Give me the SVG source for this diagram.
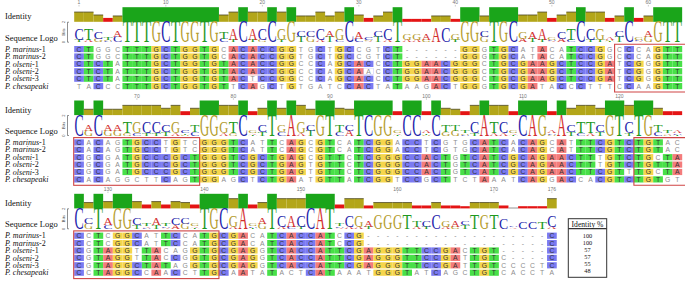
<svg xmlns="http://www.w3.org/2000/svg" width="685" height="285" viewBox="0 0 685 285">
<style>
.lb{font:8.5px "Liberation Serif","Times New Roman",serif;fill:#111}
.sp{font-size:8px}
.it{font-style:italic}
.ru{font:5px "Liberation Sans",Arial,sans-serif;fill:#777;text-anchor:middle}
.tk{stroke:#999;stroke-width:.5;fill:none}
.ax{font:4.5px "Liberation Serif",serif;fill:#333;text-anchor:middle}
.a,.c,.g,.t,.x{width:9.7px;height:6.2px}
.a{fill:#f47c7c}.c{fill:#7a7af2}.g{fill:#f5d64c}.t{fill:#48e048}.x{fill:#fff}
.sq{font:6.8px "Liberation Sans",Arial,sans-serif;fill:#333;text-anchor:middle}
.w{fill:#8c8c8c}
.gb{fill:#1aa51a;y:7.2px;height:14.6px}
.o{fill:#b3a619;stroke:#4b4622;stroke-width:.8px;stroke-dasharray:9.65 60;width:9.65px}
.r{fill:#e41414;width:9.65px}
.h67{y:12.07px;height:9.73px}.h47{y:14.99px;height:6.81px}.h40{y:15.96px;height:5.84px}
.h27{y:17.91px;height:3.89px}.h20{y:18.88px;height:2.92px}.h13{y:19.6px;height:2.2px}
.box{fill:none;stroke:#cf4444;stroke-width:1.1}
</style>
<defs>
<text id="Aa" fill="#d32f2f" font-size="30.53" textLength="9.15" lengthAdjust="spacingAndGlyphs">A</text>
<text id="Ca" fill="#2222aa" font-size="30.53" textLength="9.15" lengthAdjust="spacingAndGlyphs">C</text>
<text id="Ga" fill="#b49c2c" font-size="30.53" textLength="9.15" lengthAdjust="spacingAndGlyphs">G</text>
<text id="Ta" fill="#1f991f" font-size="30.53" textLength="9.15" lengthAdjust="spacingAndGlyphs">T</text>
<text id="Ab" fill="#d32f2f" font-size="17.18" textLength="9.15" lengthAdjust="spacingAndGlyphs">A</text>
<text id="Cb" fill="#2222aa" font-size="17.18" textLength="9.15" lengthAdjust="spacingAndGlyphs">C</text>
<text id="Gb" fill="#b49c2c" font-size="17.18" textLength="9.15" lengthAdjust="spacingAndGlyphs">G</text>
<text id="Tb" fill="#1f991f" font-size="17.18" textLength="9.15" lengthAdjust="spacingAndGlyphs">T</text>
<text id="Ac" fill="#d32f2f" font-size="3.44" textLength="9.15" lengthAdjust="spacingAndGlyphs">A</text>
<text id="Cc" fill="#2222aa" font-size="3.44" textLength="9.15" lengthAdjust="spacingAndGlyphs">C</text>
<text id="Gc" fill="#b49c2c" font-size="3.44" textLength="9.15" lengthAdjust="spacingAndGlyphs">G</text>
<text id="Tc" fill="#1f991f" font-size="3.44" textLength="9.15" lengthAdjust="spacingAndGlyphs">T</text>
<text id="Ad" fill="#d32f2f" font-size="11.01" textLength="9.15" lengthAdjust="spacingAndGlyphs">A</text>
<text id="Cd" fill="#2222aa" font-size="11.01" textLength="9.15" lengthAdjust="spacingAndGlyphs">C</text>
<text id="Gd" fill="#b49c2c" font-size="11.01" textLength="9.15" lengthAdjust="spacingAndGlyphs">G</text>
<text id="Td" fill="#1f991f" font-size="11.01" textLength="9.15" lengthAdjust="spacingAndGlyphs">T</text>
<text id="Ae" fill="#d32f2f" font-size="5.51" textLength="9.15" lengthAdjust="spacingAndGlyphs">A</text>
<text id="Ce" fill="#2222aa" font-size="5.51" textLength="9.15" lengthAdjust="spacingAndGlyphs">C</text>
<text id="Ge" fill="#b49c2c" font-size="5.51" textLength="9.15" lengthAdjust="spacingAndGlyphs">G</text>
<text id="Te" fill="#1f991f" font-size="5.51" textLength="9.15" lengthAdjust="spacingAndGlyphs">T</text>
<text id="Af" fill="#d32f2f" font-size="7.63" textLength="9.15" lengthAdjust="spacingAndGlyphs">A</text>
<text id="Cf" fill="#2222aa" font-size="7.63" textLength="9.15" lengthAdjust="spacingAndGlyphs">C</text>
<text id="Gf" fill="#b49c2c" font-size="7.63" textLength="9.15" lengthAdjust="spacingAndGlyphs">G</text>
<text id="Tf" fill="#1f991f" font-size="7.63" textLength="9.15" lengthAdjust="spacingAndGlyphs">T</text>
<text id="Ag" fill="#d32f2f" font-size="4.12" textLength="9.15" lengthAdjust="spacingAndGlyphs">A</text>
<text id="Cg" fill="#2222aa" font-size="4.12" textLength="9.15" lengthAdjust="spacingAndGlyphs">C</text>
<text id="Gg" fill="#b49c2c" font-size="4.12" textLength="9.15" lengthAdjust="spacingAndGlyphs">G</text>
<text id="Tg" fill="#1f991f" font-size="4.12" textLength="9.15" lengthAdjust="spacingAndGlyphs">T</text>
<text id="Ah" fill="#d32f2f" font-size="2.75" textLength="9.15" lengthAdjust="spacingAndGlyphs">A</text>
<text id="Ch" fill="#2222aa" font-size="2.75" textLength="9.15" lengthAdjust="spacingAndGlyphs">C</text>
<text id="Gh" fill="#b49c2c" font-size="2.75" textLength="9.15" lengthAdjust="spacingAndGlyphs">G</text>
<text id="Th" fill="#1f991f" font-size="2.75" textLength="9.15" lengthAdjust="spacingAndGlyphs">T</text>
<text id="Ai" fill="#d32f2f" font-size="1.37" textLength="9.15" lengthAdjust="spacingAndGlyphs">A</text>
<text id="Ci" fill="#2222aa" font-size="1.37" textLength="9.15" lengthAdjust="spacingAndGlyphs">C</text>
<text id="Gi" fill="#b49c2c" font-size="1.37" textLength="9.15" lengthAdjust="spacingAndGlyphs">G</text>
<text id="Ti" fill="#1f991f" font-size="1.37" textLength="9.15" lengthAdjust="spacingAndGlyphs">T</text>
<text id="Aj" fill="#d32f2f" font-size="20.36" textLength="9.15" lengthAdjust="spacingAndGlyphs">A</text>
<text id="Cj" fill="#2222aa" font-size="20.36" textLength="9.15" lengthAdjust="spacingAndGlyphs">C</text>
<text id="Gj" fill="#b49c2c" font-size="20.36" textLength="9.15" lengthAdjust="spacingAndGlyphs">G</text>
<text id="Tj" fill="#1f991f" font-size="20.36" textLength="9.15" lengthAdjust="spacingAndGlyphs">T</text>
<text id="Ak" fill="#d32f2f" font-size="9.09" textLength="9.15" lengthAdjust="spacingAndGlyphs">A</text>
<text id="Ck" fill="#2222aa" font-size="9.09" textLength="9.15" lengthAdjust="spacingAndGlyphs">C</text>
<text id="Gk" fill="#b49c2c" font-size="9.09" textLength="9.15" lengthAdjust="spacingAndGlyphs">G</text>
<text id="Tk" fill="#1f991f" font-size="9.09" textLength="9.15" lengthAdjust="spacingAndGlyphs">T</text>
<text id="Al" fill="#d32f2f" font-size="3.02" textLength="9.15" lengthAdjust="spacingAndGlyphs">A</text>
<text id="Cl" fill="#2222aa" font-size="3.02" textLength="9.15" lengthAdjust="spacingAndGlyphs">C</text>
<text id="Gl" fill="#b49c2c" font-size="3.02" textLength="9.15" lengthAdjust="spacingAndGlyphs">G</text>
<text id="Tl" fill="#1f991f" font-size="3.02" textLength="9.15" lengthAdjust="spacingAndGlyphs">T</text>
<text id="Cm" fill="#2222aa" font-size="5.09" textLength="9.15" lengthAdjust="spacingAndGlyphs">C</text>
<text id="Tm" fill="#1f991f" font-size="5.09" textLength="9.15" lengthAdjust="spacingAndGlyphs">T</text>
<text id="Cn" fill="#2222aa" font-size="15.27" textLength="9.15" lengthAdjust="spacingAndGlyphs">C</text>
<text id="Cp" fill="#2222aa" font-size="10.18" textLength="9.15" lengthAdjust="spacingAndGlyphs">C</text>
<text id="Tp" fill="#1f991f" font-size="10.18" textLength="9.15" lengthAdjust="spacingAndGlyphs">T</text>
<text id="Aq" fill="#d32f2f" font-size="2.55" textLength="9.15" lengthAdjust="spacingAndGlyphs">A</text>
<text id="Cq" fill="#2222aa" font-size="2.55" textLength="9.15" lengthAdjust="spacingAndGlyphs">C</text>
</defs>
<rect width="685" height="285" fill="#fff"/>

<g id="block1">
<g class="ru"><text x="79" y="4.2">1</text><text x="165.85" y="4.2">10</text><text x="262.35" y="4.2">20</text><text x="358.85" y="4.2">30</text><text x="455.35" y="4.2">40</text><text x="551.85" y="4.2">50</text><text x="648.35" y="4.2">60</text></g>
<path class="tk" d="M79,4.9v1.6M165.85,4.9v1.6M262.35,4.9v1.6M358.85,4.9v1.6M455.35,4.9v1.6M551.85,4.9v1.6M648.35,4.9v1.6"/>
<g class="lb"><text x="5" y="19.3">Identity</text><text x="5" y="40.8">Sequence Logo</text>
<g class="sp"><text x="5" y="51.8"><tspan class="it">P. marinus</tspan>-1</text><text x="5" y="59.2"><tspan class="it">P. marinus</tspan>-2</text><text x="5" y="66.6"><tspan class="it">P. olseni</tspan>-1</text><text x="5" y="74"><tspan class="it">P. olseni</tspan>-2</text><text x="5" y="81.4"><tspan class="it">P. olseni</tspan>-3</text><text x="5" y="88.8" class="it">P. chesapeaki</text></g></g>
<g id="b1-identity">
<rect class="o h67" x="74.2"/><rect class="o h67" x="83.85"/><rect class="o h47" x="93.5"/><rect class="r h27" x="103.15"/><rect class="o h40" x="112.8"/><rect class="gb" x="122.45" width="96.5"/><rect class="o h47" x="218.95"/><rect class="o h67" x="228.6"/><rect class="gb" x="238.25" width="9.65"/><rect class="o h67" x="247.9"/><rect class="o h67" x="257.55"/><rect class="gb" x="267.2" width="9.65"/><rect class="o h67" x="276.85"/><rect class="gb" x="286.5" width="9.65"/><rect class="o h40" x="296.15"/><rect class="o h40" x="305.8"/><rect class="o h67" x="315.45"/><rect class="o h40" x="325.1"/><rect class="o h67" x="334.75"/><rect class="gb" x="344.4" width="9.65"/><rect class="o h47" x="354.05"/><rect class="r h27" x="363.7"/><rect class="o h40" x="373.35"/><rect class="o h67" x="383"/><rect class="gb" x="392.65" width="9.65"/><rect class="r h20" x="402.3"/><rect class="r h20" x="411.95"/><rect class="r h20" x="421.6"/><rect class="o h40" x="431.25"/><rect class="o h40" x="440.9"/><rect class="r h20" x="450.55"/><rect class="gb" x="460.2" width="19.3"/><rect class="o h40" x="479.5"/><rect class="gb" x="489.15" width="28.95"/><rect class="o h47" x="518.1"/><rect class="o h47" x="527.75"/><rect class="o h67" x="537.4"/><rect class="r h27" x="547.05"/><rect class="o h47" x="556.7"/><rect class="o h67" x="566.35"/><rect class="gb" x="576" width="9.65"/><rect class="o h67" x="585.65"/><rect class="o h67" x="595.3"/><rect class="r h27" x="604.95"/><rect class="o h40" x="614.6"/><rect class="gb" x="624.25" width="9.65"/><rect class="r h27" x="633.9"/><rect class="o h40" x="643.55"/><rect class="gb" x="653.2" width="28.95"/>
</g>
<g id="b1-logo" transform="translate(0.25,42.2)" font-family="'Liberation Serif','Times New Roman',serif">
<use href="#Tc" x="74.2"/><use href="#Cb" x="74.2" y="-2.25"/><use href="#Ac" x="83.85"/><use href="#Tb" x="83.85" y="-2.25"/><use href="#Ge" x="93.5"/><use href="#Cd" x="93.5" y="-3.61"/><use href="#Ci" x="103.15"/><use href="#Gh" x="103.15" y="-.9"/><use href="#Tg" x="103.15" y="-2.7"/><use href="#Cf" x="112.8"/><use href="#Af" x="112.8" y="-5"/><use href="#Ta" x="122.45"/><use href="#Ta" x="132.1"/><use href="#Ta" x="141.75"/><use href="#Ga" x="151.4"/><use href="#Ca" x="161.05"/><use href="#Ta" x="170.7"/><use href="#Ga" x="180.35"/><use href="#Ga" x="190"/><use href="#Ta" x="199.65"/><use href="#Ga" x="209.3"/><use href="#Ce" x="218.95"/><use href="#Td" x="218.95" y="-3.61"/><use href="#Tc" x="228.6"/><use href="#Ab" x="228.6" y="-2.25"/><use href="#Ca" x="238.25"/><use href="#Tc" x="247.9"/><use href="#Ab" x="247.9" y="-2.25"/><use href="#Gc" x="257.55"/><use href="#Cb" x="257.55" y="-2.25"/><use href="#Ca" x="267.2"/><use href="#Tc" x="276.85"/><use href="#Gb" x="276.85" y="-2.25"/><use href="#Ga" x="286.5"/><use href="#Tf" x="296.15"/><use href="#Cf" x="296.15" y="-5"/><use href="#Gf" x="305.8"/><use href="#Cf" x="305.8" y="-5"/><use href="#Ac" x="315.45"/><use href="#Cb" x="315.45" y="-2.25"/><use href="#Tf" x="325.1"/><use href="#Af" x="325.1" y="-5"/><use href="#Cc" x="334.75"/><use href="#Gb" x="334.75" y="-2.25"/><use href="#Ca" x="344.4"/><use href="#Ce" x="354.05"/><use href="#Ad" x="354.05" y="-3.61"/><use href="#Ai" x="363.7"/><use href="#Gh" x="363.7" y="-.9"/><use href="#Cg" x="363.7" y="-2.7"/><use href="#Tf" x="373.35"/><use href="#Cf" x="373.35" y="-5"/><use href="#Ac" x="383"/><use href="#Cb" x="383" y="-2.25"/><use href="#Ta" x="392.65"/><use href="#Al" x="402.3"/><use href="#Gk" x="402.3" y="-1.98"/><use href="#Al" x="411.95"/><use href="#Gk" x="411.95" y="-1.98"/><use href="#Gl" x="421.6"/><use href="#Ak" x="421.6" y="-1.98"/><use href="#Aj" x="431.25"/><use href="#Cj" x="440.9"/><use href="#Tl" x="450.55"/><use href="#Gk" x="450.55" y="-1.98"/><use href="#Ga" x="460.2"/><use href="#Ga" x="469.85"/><use href="#Gf" x="479.5"/><use href="#Cf" x="479.5" y="-5"/><use href="#Ta" x="489.15"/><use href="#Ga" x="498.8"/><use href="#Ca" x="508.45"/><use href="#Ae" x="518.1"/><use href="#Gd" x="518.1" y="-3.61"/><use href="#Te" x="527.75"/><use href="#Ad" x="527.75" y="-3.61"/><use href="#Tc" x="537.4"/><use href="#Ab" x="537.4" y="-2.25"/><use href="#Ai" x="547.05"/><use href="#Ch" x="547.05" y="-.9"/><use href="#Gg" x="547.05" y="-2.7"/><use href="#Ae" x="556.7"/><use href="#Cd" x="556.7" y="-3.61"/><use href="#Cc" x="566.35"/><use href="#Tb" x="566.35" y="-2.25"/><use href="#Ca" x="576"/><use href="#Tc" x="585.65"/><use href="#Cb" x="585.65" y="-2.25"/><use href="#Tc" x="595.3"/><use href="#Gb" x="595.3" y="-2.25"/><use href="#Ti" x="604.95"/><use href="#Gh" x="604.95" y="-.9"/><use href="#Ag" x="604.95" y="-2.7"/><use href="#Tf" x="614.6"/><use href="#Cf" x="614.6" y="-5"/><use href="#Ca" x="624.25"/><use href="#Ai" x="633.9"/><use href="#Ch" x="633.9" y="-.9"/><use href="#Gg" x="633.9" y="-2.7"/><use href="#Gf" x="643.55"/><use href="#Af" x="643.55" y="-5"/><use href="#Ga" x="653.2"/><use href="#Ta" x="662.85"/><use href="#Ta" x="672.5"/>
</g>
<g id="b1-axis"><path d="M69,22.2H67.5V42.2H69" fill="none" stroke="#444" stroke-width=".6"/><text class="ax" transform="translate(64.8,32.2) rotate(-90)">Bits</text><text class="ax" transform="translate(64.8,42.2) rotate(-90)" text-anchor="start">0</text><text class="ax" transform="translate(64.8,22.2) rotate(-90)" text-anchor="end">2</text></g>
<g id="b1-cells">
<g id="b1r1" transform="translate(0,46)"><rect class="c" x="74.2"/><rect class="t" x="83.85"/><rect class="t" x="122.45"/><rect class="t" x="132.1"/><rect class="t" x="141.75"/><rect class="g" x="151.4"/><rect class="c" x="161.05"/><rect class="t" x="170.7"/><rect class="g" x="180.35"/><rect class="g" x="190"/><rect class="t" x="199.65"/><rect class="g" x="209.3"/><rect class="a" x="228.6"/><rect class="c" x="238.25"/><rect class="a" x="247.9"/><rect class="c" x="257.55"/><rect class="c" x="267.2"/><rect class="g" x="276.85"/><rect class="g" x="286.5"/><rect class="c" x="315.45"/><rect class="g" x="334.75"/><rect class="c" x="344.4"/><rect class="c" x="383"/><rect class="t" x="392.65"/><rect class="g" x="460.2"/><rect class="g" x="469.85"/><rect class="t" x="489.15"/><rect class="g" x="498.8"/><rect class="c" x="508.45"/><rect class="a" x="537.4"/><rect class="t" x="566.35"/><rect class="c" x="576"/><rect class="c" x="585.65"/><rect class="g" x="595.3"/><rect class="c" x="624.25"/><rect class="g" x="653.2"/><rect class="t" x="662.85"/><rect class="t" x="672.5"/></g>
<use href="#b1r1" y="7.4"/>
<g id="b1r3" transform="translate(0,60.8)"><rect class="c" x="74.2"/><rect class="t" x="83.85"/><rect class="c" x="93.5"/><rect class="t" x="103.15"/><rect class="t" x="122.45"/><rect class="t" x="132.1"/><rect class="t" x="141.75"/><rect class="g" x="151.4"/><rect class="c" x="161.05"/><rect class="t" x="170.7"/><rect class="g" x="180.35"/><rect class="g" x="190"/><rect class="t" x="199.65"/><rect class="g" x="209.3"/><rect class="t" x="218.95"/><rect class="a" x="228.6"/><rect class="c" x="238.25"/><rect class="a" x="247.9"/><rect class="c" x="257.55"/><rect class="c" x="267.2"/><rect class="g" x="276.85"/><rect class="g" x="286.5"/><rect class="c" x="315.45"/><rect class="g" x="334.75"/><rect class="c" x="344.4"/><rect class="a" x="354.05"/><rect class="c" x="363.7"/><rect class="c" x="383"/><rect class="t" x="392.65"/><rect class="g" x="402.3"/><rect class="g" x="411.95"/><rect class="a" x="421.6"/><rect class="a" x="431.25"/><rect class="c" x="440.9"/><rect class="g" x="450.55"/><rect class="g" x="460.2"/><rect class="g" x="469.85"/><rect class="t" x="489.15"/><rect class="g" x="498.8"/><rect class="c" x="508.45"/><rect class="g" x="518.1"/><rect class="a" x="527.75"/><rect class="a" x="537.4"/><rect class="g" x="547.05"/><rect class="c" x="556.7"/><rect class="t" x="566.35"/><rect class="c" x="576"/><rect class="c" x="585.65"/><rect class="g" x="595.3"/><rect class="a" x="604.95"/><rect class="c" x="624.25"/><rect class="g" x="633.9"/><rect class="g" x="653.2"/><rect class="t" x="662.85"/><rect class="t" x="672.5"/></g>
<use href="#b1r3" y="7.4"/><rect class="x" x="363.7" y="68.2"/>
<use href="#b1r3" y="14.8"/><rect class="x" x="247.9" y="75.6"/>
<g transform="translate(0,83)"><rect class="c" x="93.5"/><rect class="t" x="122.45"/><rect class="t" x="132.1"/><rect class="t" x="141.75"/><rect class="g" x="151.4"/><rect class="c" x="161.05"/><rect class="t" x="170.7"/><rect class="g" x="180.35"/><rect class="g" x="190"/><rect class="t" x="199.65"/><rect class="g" x="209.3"/><rect class="t" x="218.95"/><rect class="c" x="238.25"/><rect class="a" x="247.9"/><rect class="c" x="267.2"/><rect class="g" x="286.5"/><rect class="c" x="344.4"/><rect class="a" x="354.05"/><rect class="c" x="363.7"/><rect class="t" x="392.65"/><rect class="a" x="431.25"/><rect class="c" x="440.9"/><rect class="g" x="460.2"/><rect class="g" x="469.85"/><rect class="t" x="489.15"/><rect class="g" x="498.8"/><rect class="c" x="508.45"/><rect class="g" x="518.1"/><rect class="a" x="527.75"/><rect class="c" x="556.7"/><rect class="c" x="576"/><rect class="c" x="624.25"/><rect class="g" x="653.2"/><rect class="t" x="662.85"/><rect class="t" x="672.5"/></g>
</g>
<g id="b1-seq">
<text id="b1t1" class="sq" y="51.5" x="79 88.65 98.3 107.95 117.6 127.25 136.9 146.55 156.2 165.85 175.5 185.15 194.8 204.45 214.1 223.75 233.4 243.05 252.7 262.35 272 281.65 291.3 300.95 310.6 320.25 329.9 339.55 349.2 358.85 368.5 378.15 387.8 397.45 407.1 416.75 426.4 436.05 445.7 455.35 465 474.65 484.3 493.95 503.6 513.25 522.9 532.55 542.2 551.85 561.5 571.15 580.8 590.45 600.1 609.75 619.4 629.05 638.7 648.35 658 667.65 677.3">CT<tspan class="w">GGC</tspan>TTTGCTGGTG<tspan class="w">C</tspan>ACACCGG<tspan class="w">TG</tspan>C<tspan class="w">T</tspan>GC<tspan class="w">CGT</tspan>CT<tspan class="w">------</tspan>GG<tspan class="w">G</tspan>TGC<tspan class="w">AT</tspan>A<tspan class="w">CA</tspan>TCCG<tspan class="w">GC</tspan>C<tspan class="w">CA</tspan>GTT</text>
<use href="#b1t1" y="7.4"/>
<text class="sq" y="66.3" x="79 88.65 98.3 107.95 117.6 127.25 136.9 146.55 156.2 165.85 175.5 185.15 194.8 204.45 214.1 223.75 233.4 243.05 252.7 262.35 272 281.65 291.3 300.95 310.6 320.25 329.9 339.55 349.2 358.85 368.5 378.15 387.8 397.45 407.1 416.75 426.4 436.05 445.7 455.35 465 474.65 484.3 493.95 503.6 513.25 522.9 532.55 542.2 551.85 561.5 571.15 580.8 590.45 600.1 609.75 619.4 629.05 638.7 648.35 658 667.65 677.3">CTCT<tspan class="w">A</tspan>TTTGCTGGTGTACACCGG<tspan class="w">CC</tspan>C<tspan class="w">A</tspan>GCAC<tspan class="w">C</tspan>CTGGAACGGG<tspan class="w">C</tspan>TGCGAAGCTCCGA<tspan class="w">T</tspan>CG<tspan class="w">G</tspan>GTT</text>
<text class="sq" y="73.7" x="79 88.65 98.3 107.95 117.6 127.25 136.9 146.55 156.2 165.85 175.5 185.15 194.8 204.45 214.1 223.75 233.4 243.05 252.7 262.35 272 281.65 291.3 300.95 310.6 320.25 329.9 339.55 349.2 358.85 368.5 378.15 387.8 397.45 407.1 416.75 426.4 436.05 445.7 455.35 465 474.65 484.3 493.95 503.6 513.25 522.9 532.55 542.2 551.85 561.5 571.15 580.8 590.45 600.1 609.75 619.4 629.05 638.7 648.35 658 667.65 677.3">CTCT<tspan class="w">A</tspan>TTTGCTGGTGTACACCGG<tspan class="w">CC</tspan>C<tspan class="w">A</tspan>GCA<tspan class="w">AC</tspan>CTGGAACGGG<tspan class="w">C</tspan>TGCGAAGCTCCGA<tspan class="w">T</tspan>CG<tspan class="w">G</tspan>GTT</text>
<text class="sq" y="81.1" x="79 88.65 98.3 107.95 117.6 127.25 136.9 146.55 156.2 165.85 175.5 185.15 194.8 204.45 214.1 223.75 233.4 243.05 252.7 262.35 272 281.65 291.3 300.95 310.6 320.25 329.9 339.55 349.2 358.85 368.5 378.15 387.8 397.45 407.1 416.75 426.4 436.05 445.7 455.35 465 474.65 484.3 493.95 503.6 513.25 522.9 532.55 542.2 551.85 561.5 571.15 580.8 590.45 600.1 609.75 619.4 629.05 638.7 648.35 658 667.65 677.3">CTCT<tspan class="w">A</tspan>TTTGCTGGTGTAC<tspan class="w">T</tspan>CCGG<tspan class="w">CC</tspan>C<tspan class="w">A</tspan>GCAC<tspan class="w">C</tspan>CTGGAACGGG<tspan class="w">C</tspan>TGCGAAGCTCCGA<tspan class="w">T</tspan>CG<tspan class="w">G</tspan>GTT</text>
<text class="sq" y="88.5" x="79 88.65 98.3 107.95 117.6 127.25 136.9 146.55 156.2 165.85 175.5 185.15 194.8 204.45 214.1 223.75 233.4 243.05 252.7 262.35 272 281.65 291.3 300.95 310.6 320.25 329.9 339.55 349.2 358.85 368.5 378.15 387.8 397.45 407.1 416.75 426.4 436.05 445.7 455.35 465 474.65 484.3 493.95 503.6 513.25 522.9 532.55 542.2 551.85 561.5 571.15 580.8 590.45 600.1 609.75 619.4 629.05 638.7 648.35 658 667.65 677.3"><tspan class="w">TA</tspan>C<tspan class="w">CC</tspan>TTTGCTGGTGT<tspan class="w">T</tspan>CA<tspan class="w">G</tspan>C<tspan class="w">T</tspan>G<tspan class="w">TGATC</tspan>CAC<tspan class="w">TA</tspan>T<tspan class="w">AAG</tspan>AC<tspan class="w">T</tspan>GG<tspan class="w">G</tspan>TGCGA<tspan class="w">TA</tspan>C<tspan class="w">C</tspan>C<tspan class="w">TTTC</tspan>C<tspan class="w">AA</tspan>GTT</text>
</g>
</g>

<g id="block2" transform="translate(0,93.3)">
<g class="ru"><text x="136.9" y="4.2">70</text><text x="233.4" y="4.2">80</text><text x="329.9" y="4.2">90</text><text x="426.4" y="4.2">100</text><text x="522.9" y="4.2">110</text><text x="619.4" y="4.2">120</text></g>
<path class="tk" d="M136.9,4.9v1.6M233.4,4.9v1.6M329.9,4.9v1.6M426.4,4.9v1.6M522.9,4.9v1.6M619.4,4.9v1.6"/>
<g class="lb"><text x="5" y="19.3">Identity</text><text x="5" y="40.8">Sequence Logo</text>
<g class="sp"><text x="5" y="51.8"><tspan class="it">P. marinus</tspan>-1</text><text x="5" y="59.2"><tspan class="it">P. marinus</tspan>-2</text><text x="5" y="66.6"><tspan class="it">P. olseni</tspan>-1</text><text x="5" y="74"><tspan class="it">P. olseni</tspan>-2</text><text x="5" y="81.4"><tspan class="it">P. olseni</tspan>-3</text><text x="5" y="88.8" class="it">P. chesapeaki</text></g></g>
<g id="b2-identity">
<rect class="gb" x="74.2" width="9.65"/><rect class="o h40" x="83.85"/><rect class="gb" x="93.5" width="9.65"/><rect class="o h40" x="103.15"/><rect class="o h40" x="112.8"/><rect class="o h67" x="122.45"/><rect class="o h67" x="132.1"/><rect class="o h67" x="141.75"/><rect class="o h67" x="151.4"/><rect class="o h47" x="161.05"/><rect class="o h67" x="170.7"/><rect class="r h27" x="180.35"/><rect class="o h47" x="190"/><rect class="gb" x="199.65" width="19.3"/><rect class="o h67" x="218.95"/><rect class="o h67" x="228.6"/><rect class="gb" x="238.25" width="9.65"/><rect class="r h27" x="247.9"/><rect class="o h47" x="257.55"/><rect class="gb" x="267.2" width="9.65"/><rect class="o h47" x="276.85"/><rect class="gb" x="286.5" width="9.65"/><rect class="o h67" x="296.15"/><rect class="o h40" x="305.8"/><rect class="gb" x="315.45" width="19.3"/><rect class="o h47" x="334.75"/><rect class="o h40" x="344.4"/><rect class="gb" x="354.05" width="38.6"/><rect class="r h27" x="392.65"/><rect class="gb" x="402.3" width="19.3"/><rect class="r h27" x="421.6"/><rect class="gb" x="431.25" width="9.65"/><rect class="o h47" x="440.9"/><rect class="o h40" x="450.55"/><rect class="r h27" x="460.2"/><rect class="o h67" x="469.85"/><rect class="gb" x="479.5" width="9.65"/><rect class="o h67" x="489.15"/><rect class="o h67" x="498.8"/><rect class="r h27" x="508.45"/><rect class="gb" x="518.1" width="28.95"/><rect class="r h27" x="547.05"/><rect class="gb" x="556.7" width="9.65"/><rect class="o h47" x="566.35"/><rect class="o h67" x="576"/><rect class="o h67" x="585.65"/><rect class="o h47" x="595.3"/><rect class="gb" x="604.95" width="19.3"/><rect class="o h67" x="624.25"/><rect class="gb" x="633.9" width="19.3"/><rect class="o h47" x="653.2"/><rect class="r h27" x="662.85"/><rect class="r h27" x="672.5"/>
</g>
<g id="b2-logo" transform="translate(0.25,42.2)" font-family="'Liberation Serif','Times New Roman',serif">
<use href="#Ca" x="74.2"/><use href="#Gf" x="83.85"/><use href="#Af" x="83.85" y="-5"/><use href="#Ca" x="93.5"/><use href="#Gf" x="103.15"/><use href="#Af" x="103.15" y="-5"/><use href="#Gf" x="112.8"/><use href="#Af" x="112.8" y="-5"/><use href="#Gc" x="122.45"/><use href="#Tb" x="122.45" y="-2.25"/><use href="#Cc" x="132.1"/><use href="#Gb" x="132.1" y="-2.25"/><use href="#Tc" x="141.75"/><use href="#Cb" x="141.75" y="-2.25"/><use href="#Tc" x="151.4"/><use href="#Cb" x="151.4" y="-2.25"/><use href="#Te" x="161.05"/><use href="#Cd" x="161.05" y="-3.61"/><use href="#Ac" x="170.7"/><use href="#Gb" x="170.7" y="-2.25"/><use href="#Gi" x="180.35"/><use href="#Th" x="180.35" y="-.9"/><use href="#Cg" x="180.35" y="-2.7"/><use href="#Ce" x="190"/><use href="#Td" x="190" y="-3.61"/><use href="#Ga" x="199.65"/><use href="#Ga" x="209.3"/><use href="#Ac" x="218.95"/><use href="#Gb" x="218.95" y="-2.25"/><use href="#Gc" x="228.6"/><use href="#Tb" x="228.6" y="-2.25"/><use href="#Ca" x="238.25"/><use href="#Ti" x="247.9"/><use href="#Ah" x="247.9" y="-.9"/><use href="#Gg" x="247.9" y="-2.7"/><use href="#Te" x="257.55"/><use href="#Cd" x="257.55" y="-3.61"/><use href="#Ta" x="267.2"/><use href="#Ce" x="276.85"/><use href="#Gd" x="276.85" y="-3.61"/><use href="#Aa" x="286.5"/><use href="#Ac" x="296.15"/><use href="#Gb" x="296.15" y="-2.25"/><use href="#Tf" x="305.8"/><use href="#Cf" x="305.8" y="-5"/><use href="#Ga" x="315.45"/><use href="#Ta" x="325.1"/><use href="#Ce" x="334.75"/><use href="#Td" x="334.75" y="-3.61"/><use href="#Af" x="344.4"/><use href="#Cf" x="344.4" y="-5"/><use href="#Ta" x="354.05"/><use href="#Ca" x="363.7"/><use href="#Ga" x="373.35"/><use href="#Ga" x="383"/><use href="#Ti" x="392.65"/><use href="#Ah" x="392.65" y="-.9"/><use href="#Gg" x="392.65" y="-2.7"/><use href="#Ca" x="402.3"/><use href="#Ca" x="411.95"/><use href="#Gi" x="421.6"/><use href="#Th" x="421.6" y="-.9"/><use href="#Ag" x="421.6" y="-2.7"/><use href="#Ca" x="431.25"/><use href="#Ge" x="440.9"/><use href="#Td" x="440.9" y="-3.61"/><use href="#Gf" x="450.55"/><use href="#Tf" x="450.55" y="-5"/><use href="#Ci" x="460.2"/><use href="#Gh" x="460.2" y="-.9"/><use href="#Tg" x="460.2" y="-2.7"/><use href="#Tc" x="469.85"/><use href="#Cb" x="469.85" y="-2.25"/><use href="#Aa" x="479.5"/><use href="#Ac" x="489.15"/><use href="#Tb" x="489.15" y="-2.25"/><use href="#Ac" x="498.8"/><use href="#Cb" x="498.8" y="-2.25"/><use href="#Ti" x="508.45"/><use href="#Ah" x="508.45" y="-.9"/><use href="#Gg" x="508.45" y="-2.7"/><use href="#Ca" x="518.1"/><use href="#Aa" x="527.75"/><use href="#Ga" x="537.4"/><use href="#Gi" x="547.05"/><use href="#Ch" x="547.05" y="-.9"/><use href="#Ag" x="547.05" y="-2.7"/><use href="#Aa" x="556.7"/><use href="#Te" x="566.35"/><use href="#Cd" x="566.35" y="-3.61"/><use href="#Cc" x="576"/><use href="#Tb" x="576" y="-2.25"/><use href="#Ac" x="585.65"/><use href="#Tb" x="585.65" y="-2.25"/><use href="#Te" x="595.3"/><use href="#Cd" x="595.3" y="-3.61"/><use href="#Ga" x="604.95"/><use href="#Ta" x="614.6"/><use href="#Tc" x="624.25"/><use href="#Cb" x="624.25" y="-2.25"/><use href="#Ta" x="633.9"/><use href="#Ga" x="643.55"/><use href="#Ce" x="653.2"/><use href="#Td" x="653.2" y="-3.61"/><use href="#Gi" x="662.85"/><use href="#Ah" x="662.85" y="-.9"/><use href="#Tg" x="662.85" y="-2.7"/><use href="#Ti" x="672.5"/><use href="#Ch" x="672.5" y="-.9"/><use href="#Ag" x="672.5" y="-2.7"/>
</g>
<g id="b2-axis"><path d="M69,22.2H67.5V42.2H69" fill="none" stroke="#444" stroke-width=".6"/><text class="ax" transform="translate(64.8,32.2) rotate(-90)">Bits</text><text class="ax" transform="translate(64.8,42.2) rotate(-90)" text-anchor="start">0</text><text class="ax" transform="translate(64.8,22.2) rotate(-90)" text-anchor="end">2</text></g>
<g id="b2-cells">
<g id="b2r1" transform="translate(0,46)"><rect class="c" x="74.2"/><rect class="c" x="93.5"/><rect class="t" x="122.45"/><rect class="g" x="132.1"/><rect class="c" x="141.75"/><rect class="c" x="151.4"/><rect class="g" x="170.7"/><rect class="g" x="199.65"/><rect class="g" x="209.3"/><rect class="g" x="218.95"/><rect class="t" x="228.6"/><rect class="c" x="238.25"/><rect class="t" x="267.2"/><rect class="a" x="286.5"/><rect class="g" x="296.15"/><rect class="g" x="315.45"/><rect class="t" x="325.1"/><rect class="t" x="354.05"/><rect class="c" x="363.7"/><rect class="g" x="373.35"/><rect class="g" x="383"/><rect class="c" x="402.3"/><rect class="c" x="411.95"/><rect class="c" x="431.25"/><rect class="c" x="469.85"/><rect class="a" x="479.5"/><rect class="t" x="489.15"/><rect class="c" x="498.8"/><rect class="c" x="518.1"/><rect class="a" x="527.75"/><rect class="g" x="537.4"/><rect class="a" x="556.7"/><rect class="t" x="576"/><rect class="t" x="585.65"/><rect class="c" x="595.3"/><rect class="g" x="604.95"/><rect class="t" x="614.6"/><rect class="c" x="624.25"/><rect class="t" x="633.9"/><rect class="g" x="643.55"/><rect class="t" x="653.2"/></g>
<use href="#b2r1" y="7.4"/>
<g id="b2r3" transform="translate(0,60.8)"><rect class="c" x="74.2"/><rect class="c" x="93.5"/><rect class="t" x="122.45"/><rect class="g" x="132.1"/><rect class="c" x="141.75"/><rect class="c" x="151.4"/><rect class="c" x="161.05"/><rect class="g" x="170.7"/><rect class="c" x="180.35"/><rect class="t" x="190"/><rect class="g" x="199.65"/><rect class="g" x="209.3"/><rect class="g" x="218.95"/><rect class="t" x="228.6"/><rect class="c" x="238.25"/><rect class="g" x="247.9"/><rect class="c" x="257.55"/><rect class="t" x="267.2"/><rect class="g" x="276.85"/><rect class="a" x="286.5"/><rect class="g" x="296.15"/><rect class="g" x="315.45"/><rect class="t" x="325.1"/><rect class="t" x="334.75"/><rect class="t" x="354.05"/><rect class="c" x="363.7"/><rect class="g" x="373.35"/><rect class="g" x="383"/><rect class="g" x="392.65"/><rect class="c" x="402.3"/><rect class="c" x="411.95"/><rect class="a" x="421.6"/><rect class="c" x="431.25"/><rect class="t" x="440.9"/><rect class="t" x="460.2"/><rect class="c" x="469.85"/><rect class="a" x="479.5"/><rect class="t" x="489.15"/><rect class="c" x="498.8"/><rect class="g" x="508.45"/><rect class="c" x="518.1"/><rect class="a" x="527.75"/><rect class="g" x="537.4"/><rect class="a" x="547.05"/><rect class="a" x="556.7"/><rect class="c" x="566.35"/><rect class="t" x="576"/><rect class="t" x="585.65"/><rect class="g" x="604.95"/><rect class="t" x="614.6"/><rect class="c" x="624.25"/><rect class="t" x="633.9"/><rect class="g" x="643.55"/><rect class="t" x="662.85"/><rect class="a" x="672.5"/></g>
<use href="#b2r3" y="7.4"/><rect class="t" x="653.2" y="68.2"/>
<use href="#b2r3" y="14.8"/><rect class="c" x="595.3" y="75.6"/><rect class="x" x="624.25" y="75.6"/>
<g transform="translate(0,83)"><rect class="c" x="74.2"/><rect class="c" x="93.5"/><rect class="c" x="161.05"/><rect class="t" x="190"/><rect class="g" x="199.65"/><rect class="g" x="209.3"/><rect class="c" x="238.25"/><rect class="c" x="257.55"/><rect class="t" x="267.2"/><rect class="g" x="276.85"/><rect class="a" x="286.5"/><rect class="g" x="315.45"/><rect class="t" x="325.1"/><rect class="t" x="334.75"/><rect class="t" x="354.05"/><rect class="c" x="363.7"/><rect class="g" x="373.35"/><rect class="g" x="383"/><rect class="c" x="402.3"/><rect class="c" x="411.95"/><rect class="c" x="431.25"/><rect class="t" x="440.9"/><rect class="a" x="479.5"/><rect class="c" x="518.1"/><rect class="a" x="527.75"/><rect class="g" x="537.4"/><rect class="a" x="556.7"/><rect class="c" x="566.35"/><rect class="c" x="595.3"/><rect class="g" x="604.95"/><rect class="t" x="614.6"/><rect class="c" x="624.25"/><rect class="t" x="633.9"/><rect class="g" x="643.55"/><rect class="t" x="653.2"/></g>
</g>
<g id="b2-seq">
<text id="b2t1" class="sq" y="51.5" x="79 88.65 98.3 107.95 117.6 127.25 136.9 146.55 156.2 165.85 175.5 185.15 194.8 204.45 214.1 223.75 233.4 243.05 252.7 262.35 272 281.65 291.3 300.95 310.6 320.25 329.9 339.55 349.2 358.85 368.5 378.15 387.8 397.45 407.1 416.75 426.4 436.05 445.7 455.35 465 474.65 484.3 493.95 503.6 513.25 522.9 532.55 542.2 551.85 561.5 571.15 580.8 590.45 600.1 609.75 619.4 629.05 638.7 648.35 658 667.65 677.3">C<tspan class="w">A</tspan>C<tspan class="w">AG</tspan>TGCC<tspan class="w">T</tspan>G<tspan class="w">TC</tspan>GGGTC<tspan class="w">AT</tspan>T<tspan class="w">C</tspan>AG<tspan class="w">C</tspan>GT<tspan class="w">CA</tspan>TCGG<tspan class="w">A</tspan>CC<tspan class="w">T</tspan>C<tspan class="w">GTG</tspan>CATC<tspan class="w">A</tspan>CAG<tspan class="w">C</tspan>A<tspan class="w">T</tspan>TTCGTCTGT<tspan class="w">AC</tspan></text>
<use href="#b2t1" y="7.4"/>
<text class="sq" y="66.3" x="79 88.65 98.3 107.95 117.6 127.25 136.9 146.55 156.2 165.85 175.5 185.15 194.8 204.45 214.1 223.75 233.4 243.05 252.7 262.35 272 281.65 291.3 300.95 310.6 320.25 329.9 339.55 349.2 358.85 368.5 378.15 387.8 397.45 407.1 416.75 426.4 436.05 445.7 455.35 465 474.65 484.3 493.95 503.6 513.25 522.9 532.55 542.2 551.85 561.5 571.15 580.8 590.45 600.1 609.75 619.4 629.05 638.7 648.35 658 667.65 677.3">C<tspan class="w">G</tspan>C<tspan class="w">GA</tspan>TGCCCGCTGGGTCGCTGAG<tspan class="w">C</tspan>GTT<tspan class="w">C</tspan>TCGGGCCACT<tspan class="w">G</tspan>TCATCGCAGAACTT<tspan class="w">T</tspan>GTCTG<tspan class="w">C</tspan>TA</text>
<text class="sq" y="73.7" x="79 88.65 98.3 107.95 117.6 127.25 136.9 146.55 156.2 165.85 175.5 185.15 194.8 204.45 214.1 223.75 233.4 243.05 252.7 262.35 272 281.65 291.3 300.95 310.6 320.25 329.9 339.55 349.2 358.85 368.5 378.15 387.8 397.45 407.1 416.75 426.4 436.05 445.7 455.35 465 474.65 484.3 493.95 503.6 513.25 522.9 532.55 542.2 551.85 561.5 571.15 580.8 590.45 600.1 609.75 619.4 629.05 638.7 648.35 658 667.65 677.3">C<tspan class="w">G</tspan>C<tspan class="w">GA</tspan>TGCCCGCTGGGTCGCTGAG<tspan class="w">T</tspan>GTT<tspan class="w">C</tspan>TCGGGCCACT<tspan class="w">G</tspan>TCATCGCAGAACTT<tspan class="w">T</tspan>GTCTGTTA</text>
<text class="sq" y="81.1" x="79 88.65 98.3 107.95 117.6 127.25 136.9 146.55 156.2 165.85 175.5 185.15 194.8 204.45 214.1 223.75 233.4 243.05 252.7 262.35 272 281.65 291.3 300.95 310.6 320.25 329.9 339.55 349.2 358.85 368.5 378.15 387.8 397.45 407.1 416.75 426.4 436.05 445.7 455.35 465 474.65 484.3 493.95 503.6 513.25 522.9 532.55 542.2 551.85 561.5 571.15 580.8 590.45 600.1 609.75 619.4 629.05 638.7 648.35 658 667.65 677.3">C<tspan class="w">G</tspan>C<tspan class="w">GA</tspan>TGCCCGCTGGGTCGCTGAG<tspan class="w">T</tspan>GTT<tspan class="w">C</tspan>TCGGGCCACT<tspan class="w">G</tspan>TCATCGCAGAACTTCGT<tspan class="w">T</tspan>TG<tspan class="w">C</tspan>TA</text>
<text class="sq" y="88.5" x="79 88.65 98.3 107.95 117.6 127.25 136.9 146.55 156.2 165.85 175.5 185.15 194.8 204.45 214.1 223.75 233.4 243.05 252.7 262.35 272 281.65 291.3 300.95 310.6 320.25 329.9 339.55 349.2 358.85 368.5 378.15 387.8 397.45 407.1 416.75 426.4 436.05 445.7 455.35 465 474.65 484.3 493.95 503.6 513.25 522.9 532.55 542.2 551.85 561.5 571.15 580.8 590.45 600.1 609.75 619.4 629.05 638.7 648.35 658 667.65 677.3">C<tspan class="w">A</tspan>C<tspan class="w">AGGCTT</tspan>C<tspan class="w">AG</tspan>TGG<tspan class="w">AG</tspan>C<tspan class="w">T</tspan>CTGA<tspan class="w">AT</tspan>GTT<tspan class="w">A</tspan>TCGG<tspan class="w">T</tspan>CC<tspan class="w">G</tspan>CT<tspan class="w">TCT</tspan>A<tspan class="w">AAT</tspan>CAG<tspan class="w">G</tspan>AC<tspan class="w">CA</tspan>CGTCTGT<tspan class="w">GT</tspan></text>
</g>
</g>

<g id="block3" transform="translate(0,186.6)">
<g class="ru"><text x="107.95" y="4.2">130</text><text x="204.45" y="4.2">140</text><text x="300.95" y="4.2">150</text><text x="397.45" y="4.2">160</text><text x="493.95" y="4.2">170</text><text x="551.85" y="4.2">176</text></g>
<path class="tk" d="M107.95,4.9v1.6M204.45,4.9v1.6M300.95,4.9v1.6M397.45,4.9v1.6M493.95,4.9v1.6M551.85,4.9v1.6"/>
<g class="lb"><text x="5" y="19.3">Identity</text><text x="5" y="40.8">Sequence Logo</text>
<g class="sp"><text x="5" y="51.8"><tspan class="it">P. marinus</tspan>-1</text><text x="5" y="59.2"><tspan class="it">P. marinus</tspan>-2</text><text x="5" y="66.6"><tspan class="it">P. olseni</tspan>-1</text><text x="5" y="74"><tspan class="it">P. olseni</tspan>-2</text><text x="5" y="81.4"><tspan class="it">P. olseni</tspan>-3</text><text x="5" y="88.8" class="it">P. chesapeaki</text></g></g>
<g id="b3-identity">
<rect class="gb" x="74.2" width="9.65"/><rect class="o h40" x="83.85"/><rect class="gb" x="93.5" width="9.65"/><rect class="o h47" x="103.15"/><rect class="gb" x="112.8" width="19.3"/><rect class="o h47" x="132.1"/><rect class="r h27" x="141.75"/><rect class="o h47" x="151.4"/><rect class="r h27" x="161.05"/><rect class="o h47" x="170.7"/><rect class="o h40" x="180.35"/><rect class="r h27" x="190"/><rect class="gb" x="199.65" width="28.95"/><rect class="o h67" x="228.6"/><rect class="gb" x="238.25" width="9.65"/><rect class="r h27" x="247.9"/><rect class="o h40" x="257.55"/><rect class="gb" x="267.2" width="9.65"/><rect class="o h67" x="276.85"/><rect class="o h67" x="286.5"/><rect class="o h67" x="296.15"/><rect class="gb" x="305.8" width="28.95"/><rect class="r h27" x="334.75"/><rect class="o h67" x="344.4"/><rect class="o h67" x="354.05"/><rect class="r h20" x="363.7"/><rect class="o h40" x="373.35"/><rect class="o h40" x="383"/><rect class="o h40" x="392.65"/><rect class="o h40" x="402.3"/><rect class="r h20" x="411.95"/><rect class="r h20" x="421.6"/><rect class="o h40" x="431.25"/><rect class="r h20" x="440.9"/><rect class="r h20" x="450.55"/><rect class="r h13" x="460.2"/><rect class="o h40" x="469.85"/><rect class="o h40" x="479.5"/><rect class="o h40" x="489.15"/><rect class="r h20" x="498.8"/><path d="M508.45,21.4h9.65" stroke="#777" stroke-width=".8"/><rect class="r h13" x="518.1"/><rect class="r h13" x="527.75"/><rect class="r h13" x="537.4"/><rect class="o h67" x="547.05"/>
</g>
<g id="b3-logo" transform="translate(0.25,42.2)" font-family="'Liberation Serif','Times New Roman',serif">
<use href="#Ca" x="74.2"/><use href="#Gf" x="83.85"/><use href="#Cf" x="83.85" y="-5"/><use href="#Ta" x="93.5"/><use href="#Ce" x="103.15"/><use href="#Ad" x="103.15" y="-3.61"/><use href="#Ga" x="112.8"/><use href="#Ga" x="122.45"/><use href="#Te" x="132.1"/><use href="#Cd" x="132.1" y="-3.61"/><use href="#Ci" x="141.75"/><use href="#Ah" x="141.75" y="-.9"/><use href="#Tg" x="141.75" y="-2.7"/><use href="#Te" x="151.4"/><use href="#Ad" x="151.4" y="-3.61"/><use href="#Ai" x="161.05"/><use href="#Ch" x="161.05" y="-.9"/><use href="#Tg" x="161.05" y="-2.7"/><use href="#Ae" x="170.7"/><use href="#Cd" x="170.7" y="-3.61"/><use href="#Gf" x="180.35"/><use href="#Cf" x="180.35" y="-5"/><use href="#Ti" x="190"/><use href="#Ah" x="190" y="-.9"/><use href="#Gg" x="190" y="-2.7"/><use href="#Ta" x="199.65"/><use href="#Ga" x="209.3"/><use href="#Ca" x="218.95"/><use href="#Ac" x="228.6"/><use href="#Gb" x="228.6" y="-2.25"/><use href="#Aa" x="238.25"/><use href="#Ti" x="247.9"/><use href="#Ch" x="247.9" y="-.9"/><use href="#Gg" x="247.9" y="-2.7"/><use href="#Gf" x="257.55"/><use href="#Af" x="257.55" y="-5"/><use href="#Ta" x="267.2"/><use href="#Ac" x="276.85"/><use href="#Cb" x="276.85" y="-2.25"/><use href="#Cc" x="286.5"/><use href="#Ab" x="286.5" y="-2.25"/><use href="#Tc" x="296.15"/><use href="#Cb" x="296.15" y="-2.25"/><use href="#Ca" x="305.8"/><use href="#Aa" x="315.45"/><use href="#Ta" x="325.1"/><use href="#Ai" x="334.75"/><use href="#Ch" x="334.75" y="-.9"/><use href="#Tg" x="334.75" y="-2.7"/><use href="#Ac" x="344.4"/><use href="#Cb" x="344.4" y="-2.25"/><use href="#Ac" x="354.05"/><use href="#Gb" x="354.05" y="-2.25"/><use href="#Tl" x="363.7"/><use href="#Ak" x="363.7" y="-1.98"/><use href="#Gj" x="373.35"/><use href="#Gj" x="383"/><use href="#Gj" x="392.65"/><use href="#Tj" x="402.3"/><use href="#Al" x="411.95"/><use href="#Tk" x="411.95" y="-1.98"/><use href="#Tl" x="421.6"/><use href="#Ck" x="421.6" y="-1.98"/><use href="#Cj" x="431.25"/><use href="#Al" x="440.9"/><use href="#Gk" x="440.9" y="-1.98"/><use href="#Gl" x="450.55"/><use href="#Ak" x="450.55" y="-1.98"/><use href="#Tm" x="460.2"/><use href="#Cm" x="460.2" y="-3.33"/><use href="#Tj" x="469.85"/><use href="#Gj" x="479.5"/><use href="#Tj" x="489.15"/><use href="#Cn" x="498.8"/><use href="#Aq" x="508.45"/><use href="#Cq" x="508.45" y="-1.67"/><use href="#Cp" x="518.1"/><use href="#Cp" x="527.75"/><use href="#Tp" x="537.4"/><use href="#Ac" x="547.05"/><use href="#Cb" x="547.05" y="-2.25"/>
</g>
<g id="b3-axis"><path d="M69,22.2H67.5V42.2H69" fill="none" stroke="#444" stroke-width=".6"/><text class="ax" transform="translate(64.8,32.2) rotate(-90)">Bits</text><text class="ax" transform="translate(64.8,42.2) rotate(-90)" text-anchor="start">0</text><text class="ax" transform="translate(64.8,22.2) rotate(-90)" text-anchor="end">2</text></g>
<g id="b3-cells">
<g id="b3r1" transform="translate(0,46)"><rect class="c" x="74.2"/><rect class="t" x="93.5"/><rect class="g" x="112.8"/><rect class="g" x="122.45"/><rect class="c" x="132.1"/><rect class="t" x="161.05"/><rect class="c" x="170.7"/><rect class="t" x="199.65"/><rect class="g" x="209.3"/><rect class="c" x="218.95"/><rect class="g" x="228.6"/><rect class="a" x="238.25"/><rect class="t" x="267.2"/><rect class="c" x="276.85"/><rect class="a" x="286.5"/><rect class="c" x="296.15"/><rect class="c" x="305.8"/><rect class="a" x="315.45"/><rect class="t" x="325.1"/><rect class="c" x="344.4"/><rect class="g" x="354.05"/><rect class="c" x="547.05"/></g>
<use href="#b3r1" y="7.4"/>
<g id="b3r3" transform="translate(0,60.8)"><rect class="c" x="74.2"/><rect class="t" x="93.5"/><rect class="a" x="103.15"/><rect class="g" x="112.8"/><rect class="g" x="122.45"/><rect class="t" x="141.75"/><rect class="a" x="151.4"/><rect class="g" x="190"/><rect class="t" x="199.65"/><rect class="g" x="209.3"/><rect class="c" x="218.95"/><rect class="g" x="228.6"/><rect class="a" x="238.25"/><rect class="g" x="247.9"/><rect class="t" x="267.2"/><rect class="c" x="276.85"/><rect class="a" x="286.5"/><rect class="c" x="296.15"/><rect class="c" x="305.8"/><rect class="a" x="315.45"/><rect class="t" x="325.1"/><rect class="t" x="334.75"/><rect class="c" x="344.4"/><rect class="g" x="354.05"/><rect class="a" x="363.7"/><rect class="g" x="373.35"/><rect class="g" x="383"/><rect class="g" x="392.65"/><rect class="t" x="402.3"/><rect class="t" x="411.95"/><rect class="c" x="421.6"/><rect class="c" x="431.25"/><rect class="g" x="440.9"/><rect class="a" x="450.55"/><rect class="t" x="469.85"/><rect class="g" x="479.5"/><rect class="t" x="489.15"/><rect class="c" x="547.05"/></g>
<use href="#b3r3" y="7.4"/><rect class="c" x="170.7" y="68.2"/>
<use href="#b3r3" y="14.8"/><rect class="c" x="132.1" y="75.6"/><rect class="t" x="161.05" y="75.6"/>
<g transform="translate(0,83)"><rect class="c" x="74.2"/><rect class="t" x="93.5"/><rect class="a" x="103.15"/><rect class="g" x="112.8"/><rect class="g" x="122.45"/><rect class="c" x="132.1"/><rect class="a" x="151.4"/><rect class="c" x="170.7"/><rect class="t" x="199.65"/><rect class="g" x="209.3"/><rect class="c" x="218.95"/><rect class="a" x="238.25"/><rect class="t" x="267.2"/><rect class="c" x="305.8"/><rect class="a" x="315.45"/><rect class="t" x="325.1"/><rect class="g" x="373.35"/><rect class="g" x="383"/><rect class="g" x="392.65"/><rect class="t" x="402.3"/><rect class="c" x="431.25"/><rect class="t" x="469.85"/><rect class="g" x="479.5"/><rect class="t" x="489.15"/></g>
</g>
<g id="b3-seq">
<text id="b3t1" class="sq" y="51.5" x="79 88.65 98.3 107.95 117.6 127.25 136.9 146.55 156.2 165.85 175.5 185.15 194.8 204.45 214.1 223.75 233.4 243.05 252.7 262.35 272 281.65 291.3 300.95 310.6 320.25 329.9 339.55 349.2 358.85 368.5 378.15 387.8 397.45 407.1 416.75 426.4 436.05 445.7 455.35 465 474.65 484.3 493.95 503.6 513.25 522.9 532.55 542.2 551.85">C<tspan class="w">C</tspan>T<tspan class="w">C</tspan>GGC<tspan class="w">AT</tspan>TC<tspan class="w">CA</tspan>TGCGA<tspan class="w">CA</tspan>TCACCAT<tspan class="w">C</tspan>CG<tspan class="w">-------------------</tspan>C</text>
<use href="#b3t1" y="7.4"/>
<text class="sq" y="66.3" x="79 88.65 98.3 107.95 117.6 127.25 136.9 146.55 156.2 165.85 175.5 185.15 194.8 204.45 214.1 223.75 233.4 243.05 252.7 262.35 272 281.65 291.3 300.95 310.6 320.25 329.9 339.55 349.2 358.85 368.5 378.15 387.8 397.45 407.1 416.75 426.4 436.05 445.7 455.35 465 474.65 484.3 493.95 503.6 513.25 522.9 532.55 542.2 551.85">C<tspan class="w">G</tspan>TAGG<tspan class="w">T</tspan>TA<tspan class="w">CAG</tspan>GTGCGAG<tspan class="w">G</tspan>TCACCATTCGAGGGTTCCGA<tspan class="w">C</tspan>TGT<tspan class="w">-----</tspan>C</text>
<text class="sq" y="73.7" x="79 88.65 98.3 107.95 117.6 127.25 136.9 146.55 156.2 165.85 175.5 185.15 194.8 204.45 214.1 223.75 233.4 243.05 252.7 262.35 272 281.65 291.3 300.95 310.6 320.25 329.9 339.55 349.2 358.85 368.5 378.15 387.8 397.45 407.1 416.75 426.4 436.05 445.7 455.35 465 474.65 484.3 493.95 503.6 513.25 522.9 532.55 542.2 551.85">C<tspan class="w">G</tspan>TAGG<tspan class="w">T</tspan>TA<tspan class="w">C</tspan>C<tspan class="w">G</tspan>GTGCGAG<tspan class="w">G</tspan>TCACCATTCGAGGGTTCCGA<tspan class="w">T</tspan>TGT<tspan class="w">C----</tspan>C</text>
<text class="sq" y="81.1" x="79 88.65 98.3 107.95 117.6 127.25 136.9 146.55 156.2 165.85 175.5 185.15 194.8 204.45 214.1 223.75 233.4 243.05 252.7 262.35 272 281.65 291.3 300.95 310.6 320.25 329.9 339.55 349.2 358.85 368.5 378.15 387.8 397.45 407.1 416.75 426.4 436.05 445.7 455.35 465 474.65 484.3 493.95 503.6 513.25 522.9 532.55 542.2 551.85">C<tspan class="w">G</tspan>TAGGCTAT<tspan class="w">AG</tspan>GTGCGAG<tspan class="w">G</tspan>TCACCATTCGAGGGTTCCGA<tspan class="w">T</tspan>TGT<tspan class="w">CCCCT</tspan>C</text>
<text class="sq" y="88.5" x="79 88.65 98.3 107.95 117.6 127.25 136.9 146.55 156.2 165.85 175.5 185.15 194.8 204.45 214.1 223.75 233.4 243.05 252.7 262.35 272 281.65 291.3 300.95 310.6 320.25 329.9 339.55 349.2 358.85 368.5 378.15 387.8 397.45 407.1 416.75 426.4 436.05 445.7 455.35 465 474.65 484.3 493.95 503.6 513.25 522.9 532.55 542.2 551.85">C<tspan class="w">C</tspan>TAGGC<tspan class="w">C</tspan>A<tspan class="w">A</tspan>C<tspan class="w">CT</tspan>TGC<tspan class="w">A</tspan>A<tspan class="w">TA</tspan>T<tspan class="w">ACT</tspan>CAT<tspan class="w">AAAT</tspan>GGGT<tspan class="w">AT</tspan>C<tspan class="w">AGC</tspan>TGT<tspan class="w">CACCTA</tspan></text>
</g>
</g>

<g id="highlight-boxes">
<path class="box" d="M685,44.3H614.6V92H685"/>
<rect class="box" x="73.7" y="137.6" width="125.95" height="47.7"/>
<path class="box" d="M685,137.6H633.9V185.3H685"/>
<rect class="box" x="73.7" y="230.9" width="145.25" height="47.7"/>
</g>

<g id="identity-table">
<rect x="568.3" y="218.7" width="38.4" height="58.6" fill="#fff" stroke="#333" stroke-width="1"/>
<line x1="568.3" y1="228.6" x2="606.7" y2="228.6" stroke="#333" stroke-width="1.1"/>
<g font-family="'Liberation Serif','Times New Roman',serif" fill="#111" text-anchor="middle">
<text x="587.5" y="226.6" font-size="7.6">Identity %</text>
<g font-size="6.3"><text x="587.5" y="238">100</text><text x="587.5" y="244.7">100</text><text x="587.5" y="251.8">57</text><text x="587.5" y="258.9">57</text><text x="587.5" y="266">55</text><text x="587.5" y="273.1">48</text></g>
</g>
</g>
</svg>
